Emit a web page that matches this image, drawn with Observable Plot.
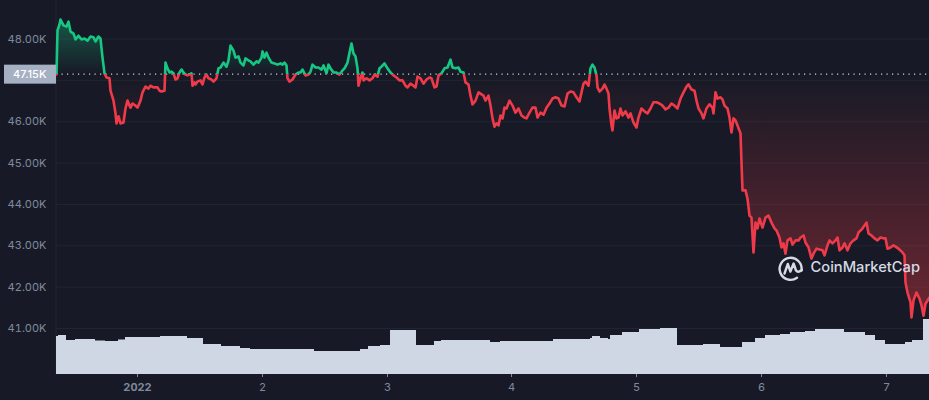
<!DOCTYPE html>
<html>
<head>
<meta charset="utf-8">
<script src="https://cdn.jsdelivr.net/npm/d3@7"></script>
<script src="https://cdn.jsdelivr.net/npm/@observablehq/plot@0.6"></script>
<style>
html,body{margin:0;padding:0;background:#171a26;overflow:hidden}
svg{display:block;background:#171a26;font-family:Inter,"Noto Sans",sans-serif}
</style>
</head>
<body>
<div id="chart"></div>
<script>
// x unit: sample number (about 11.5 minutes per sample) from the first sample of the window
const lastSample = 873;
const dayTicks = [206, 331, 455, 580, 705, 830];
const dayLabels = ["2", "3", "4", "5", "6", "7"];
const yearTick = [81];
const yearLabel = "2022";
const priceTicks = [41, 42, 43, 44, 45, 46, 47, 48];
const openPrice = 47.15;

// [sample, price in thousand USD]
const pricePart1 = [[0,47.14],[1,48.21],[3,48.35],[4,48.47],[7,48.33],[10,48.30],[12,48.42],[14,48.18],[17,48.13],[19,47.99],[22,48.08],[25,47.99],[28,48.01],[31,47.96],[34,48.06],[37,48.04],[39,47.94],[42,48.06],[44,48.01],[46,47.55],[48,47.17],[50,47.07],[53,47.05],[54,46.75],[57,46.51],[59,46.20],[60,45.96],[62,46.13],[64,45.96],[67,45.98],[69,46.32],[71,46.51],[74,46.34],[76,46.44],[79,46.39],[81,46.34],[84,46.51],[86,46.71],[89,46.85],[92,46.80],[94,46.87],[97,46.83],[101,46.83],[103,46.75],[105,46.73],[108,46.75],[109,47.43],[111,47.29],[113,47.19],[115,47.21],[117,47.17],[119,47.02],[121,47.05],[123,47.19],[125,47.26],[127,47.19],[129,47.14],[131,47.12],[133,47.14],[135,47.17],[136,46.87],[138,46.95],[139,46.90],[141,46.97],[144,47.00],[146,46.90],[148,47.07],[150,47.14],[152,47.05],[155,47.02],[157,46.97],[160,47.05],[162,47.29],[164,47.31],[167,47.43],[170,47.33],[172,47.48],[174,47.84],[177,47.72],[179,47.55],[182,47.58],[184,47.43],[187,47.36],[189,47.53],[192,47.48],[194,47.46],[197,47.38],[200,47.46],[202,47.43],[205,47.55],[206,47.70],[208,47.55],[210,47.67],[212,47.55],[215,47.43],[218,47.41],[221,47.38],[224,47.41],[226,47.38],[228,47.43],[230,47.36],[231,47.05],[233,46.97],[236,47.02],[239,47.14],[242,47.19],[244,47.19],[246,47.26],[249,47.12],[252,47.14],[254,47.21],[256,47.38],[259,47.31],[262,47.31],[265,47.26],[267,47.36],[270,47.17],[272,47.38],[274,47.29],[277,47.19],[280,47.19],[283,47.14],[286,47.24],[288,47.29],[291,47.43]];
const pricePart2 = [[293,47.67],[295,47.89],[297,47.65],[299,47.58],[301,47.29],[302,46.87],[304,47.05],[306,47.19],[307,47.00],[310,47.05],[313,47.00],[316,47.05],[318,47.14],[321,47.09],[323,47.29],[325,47.33],[328,47.41],[331,47.29],[334,47.19],[337,47.12],[340,47.07],[343,47.00],[346,47.00],[349,46.87],[351,46.83],[354,46.92],[357,46.87],[359,46.83],[361,47.09],[364,47.05],[367,46.92],[370,47.02],[373,47.07],[375,47.05],[378,46.83],[380,46.85],[382,47.12],[385,47.17],[388,47.29],[391,47.31],[394,47.50],[396,47.31],[399,47.29],[402,47.31],[404,47.21],[407,47.19],[409,46.95],[412,46.90],[414,46.63],[416,46.42],[419,46.51],[422,46.71],[425,46.66],[427,46.63],[429,46.51],[432,46.63],[434,46.39],[436,46.08],[438,45.88],[440,45.96],[442,45.91],[444,46.15],[446,46.08],[448,46.34],[450,46.32],[453,46.51],[456,46.39],[459,46.22],[462,46.32],[465,46.15],[468,46.10],[470,46.08],[473,46.22],[476,46.34],[479,46.34],[481,46.10],[484,46.22],[487,46.17],[490,46.34],[493,46.44],[496,46.56],[499,46.59],[502,46.56],[505,46.39],[508,46.37],[511,46.68],[514,46.73],[517,46.71],[520,46.59],[523,46.49],[525,46.71],[527,46.92],[529,46.97],[532,46.87],[534,47.29],[536,47.38],[538,47.31],[540,47.12],[541,46.83],[543,46.73],[546,46.80],[548,46.90],[550,46.80],[552,46.68],[553,46.32],[555,45.91],[556,45.79],[558,46.27],[560,46.08],[562,46.10],[564,46.32],[566,46.15],[569,46.25],[572,46.10],[574,46.20],[577,45.98],[580,45.86],[582,46.10],[585,46.32],[588,46.25],[591,46.20],[594,46.32],[597,46.47],[600,46.47],[603,46.44],[606,46.39],[609,46.30],[612,46.34],[615,46.44],[618,46.39],[621,46.32],[624,46.56],[627,46.71],[630,46.85],[632,46.90],[635,46.78],[638,46.75],[640,46.51],[642,46.32],[645,46.20],[647,46.08],[650,46.32],[653,46.42],[656,46.34],[657,46.20],[659,46.71],[661,46.56],[664,46.59],[666,46.54],[668,46.39],[671,46.32],[673,46.10]];
const pricePart3 = [[675,45.74],[677,46.08],[679,46.03],[681,45.91],[682,45.84],[684,45.72],[685,45.01],[686,44.34],[689,44.34],[691,44.14],[693,43.73],[695,43.68],[697,42.84],[699,43.56],[701,43.42],[703,43.66],[706,43.44],[709,43.68],[712,43.73],[715,43.56],[718,43.42],[720,43.37],[723,43.20],[725,42.96],[727,43.06],[729,42.81],[731,43.13],[734,43.18],[736,43.03],[739,43.13],[742,43.13],[744,43.20],[747,43.25],[749,43.08],[752,42.96],[755,42.69],[757,42.81],[760,42.93],[763,42.91],[766,42.89],[768,42.77],[771,43.01],[773,43.13],[776,43.06],[779,43.13],[781,43.20],[783,42.89],[786,42.96],[788,43.06],[791,42.89],[794,43.06],[797,43.13],[800,43.18],[802,43.32],[805,43.39],[808,43.49],[810,43.56],[812,43.30],[815,43.25],[818,43.18],[821,43.13],[824,43.20],[827,43.18],[829,43.18],[831,42.93],[834,42.96],[837,43.01],[839,42.98],[842,42.93],[846,42.84],[848,42.77],[849,42.11],[851,41.87],[854,41.63],[855,41.27],[857,41.68],[860,41.87],[863,41.72],[865,41.56],[867,41.31],[869,41.60],[873,41.75]];

// [sample, 24h volume in billion USD]
const volumeSteps = [[0,19],[2,19.5],[10,17],[19,17.5],[39,16.75],[49,16.5],[62,17.25],[69,18.5],[104,19],[131,18],[147,15],[165,14],[184,13],[194,12.5],[258,11.5],[289,11.5],[304,12.5],[312,14],[324,14.5],[334,22],[360,14.5],[378,16.5],[385,17],[434,16],[444,16.5],[497,17.5],[524,17.5],[534,18],[536,19],[544,18],[552,17.5],[554,19.5],[566,21],[583,22.5],[604,23],[621,14.5],[647,15],[664,13.5],[686,16],[699,18],[709,19.5],[724,20],[734,21],[749,21.5],[759,22.5],[788,21],[809,19.5],[819,17],[829,15],[849,16],[856,17],[867,27.5],[873,28]];

const priceSeries = [...pricePart1, ...pricePart2, ...pricePart3];

// the volume band sits at the foot of the panel, drawn on the price axis
const axisFloor = 39.888;
const priceUnitsPerBillion = 0.04836;

const bg = "#171a26", gridColor = "#222531", labelColor = "#808a9d",
      green = "#16c784", red = "#f03a49", volumeColor = "#cfd6e4";

const svgNS = "http://www.w3.org/2000/svg";
const el = (name, attrs, parent) => {
  const n = document.createElementNS(svgNS, name);
  for (const k in attrs) n.setAttribute(k, attrs[k]);
  if (parent) parent.appendChild(n);
  return n;
};

// Gradients split at the opening price
const gradients = (index, {y}) => {
  const defs = el("defs", {});
  const yBase = y(openPrice);
  const stroke = el("linearGradient", {id: "lineSplit", gradientUnits: "userSpaceOnUse", x1: 0, x2: 0, y1: 0, y2: 400}, defs);
  el("stop", {offset: yBase / 400, "stop-color": green}, stroke);
  el("stop", {offset: yBase / 400, "stop-color": red}, stroke);
  const fill = el("linearGradient", {id: "areaSplit", gradientUnits: "userSpaceOnUse", x1: 0, x2: 0, y1: y(48.47), y2: y(41.27)}, defs);
  const off = (yBase - y(48.47)) / (y(41.27) - y(48.47));
  el("stop", {offset: 0, "stop-color": green, "stop-opacity": 0.36}, fill);
  el("stop", {offset: off, "stop-color": green, "stop-opacity": 0}, fill);
  el("stop", {offset: off, "stop-color": "#ea3943", "stop-opacity": 0}, fill);
  el("stop", {offset: 1, "stop-color": "#ea3943", "stop-opacity": 0.4}, fill);
  return defs;
};

// The grey tag holding the opening price on the axis
const priceTag = (index, {y}) => {
  const g = el("g", {});
  el("rect", {x: 4, y: y(openPrice) - 9, width: 52, height: 19, fill: "#a6b0c3"}, g);
  return g;
};

// CoinMarketCap watermark
const watermark = () => {
  const g = el("g", {transform: "translate(791,268)", fill: "none", stroke: "#d5dae5", "stroke-width": 2.4, "stroke-linecap": "round", "stroke-linejoin": "round"});
  el("path", {d: "M10.5,2.5 A11,11 0 1 0 6,9.8"}, g);
  el("path", {d: "M-6.5,5.5 L-3.2,-4 L-0.6,3.5 L2.6,-4.5 L5,2.5 Q7,5 10.8,2"}, g);
  return g;
};

const plot = Plot.plot({
  width: 929,
  height: 400,
  marginLeft: 56,
  marginRight: 0,
  marginTop: 0,
  marginBottom: 26,
  style: {background: bg, fontFamily: "Inter, 'Noto Sans', sans-serif"},
  x: {domain: [0, lastSample]},
  y: {domain: [axisFloor, 48.931]},
  marks: [
    gradients,
    Plot.gridY(priceTicks, {stroke: gridColor, strokeOpacity: 1}),
    Plot.ruleX([0], {stroke: gridColor, strokeOpacity: 1, dx: -0.5}),
    Plot.areaY(priceSeries, {x: d => d[0], y1: () => openPrice, y2: d => d[1], fill: "url(#areaSplit)"}),
    Plot.ruleY([openPrice], {stroke: "#cfd6e4", strokeDasharray: "1.2 4.3", strokeWidth: 1.2}),
    Plot.line(priceSeries, {x: d => d[0], y: d => d[1], stroke: "url(#lineSplit)", strokeWidth: 2.6, strokeLinejoin: "round", curve: "linear"}),
    Plot.areaY(volumeSteps, {x: d => d[0], y1: () => axisFloor, y2: d => axisFloor + d[1] * priceUnitsPerBillion, fill: volumeColor, curve: "step-after"}),
    priceTag,
    Plot.text([openPrice], {y: d => d, text: d => `${d.toFixed(2)}K`, frameAnchor: "left", dx: -10, textAnchor: "end", fill: "#ffffff", fontSize: 11, fontWeight: 500}),
    Plot.axisY(priceTicks.filter(d => d !== 47), {label: null, tickSize: 0, tickPadding: 10, tickFormat: d => `${d.toFixed(2)}K`, fill: labelColor, fontSize: 11}),
    Plot.axisX(dayTicks, {label: null, tickSize: 3, tickPadding: 6, stroke: labelColor, tickFormat: (d, i) => dayLabels[i], fill: labelColor, fontSize: 11}),
    Plot.axisX(yearTick, {label: null, tickSize: 3, tickPadding: 6, stroke: labelColor, tickFormat: () => yearLabel, fill: labelColor, fontSize: 11, fontWeight: 700}),
    watermark,
    Plot.text(["CoinMarketCap"], {text: d => d, frameAnchor: "top-left", dx: 754, dy: 261.5, fontSize: 14.7, fontWeight: 500, fill: "#d5dae5", lineAnchor: "top"})
  ]
});
document.getElementById("chart").appendChild(plot);
</script>
</body>
</html>
